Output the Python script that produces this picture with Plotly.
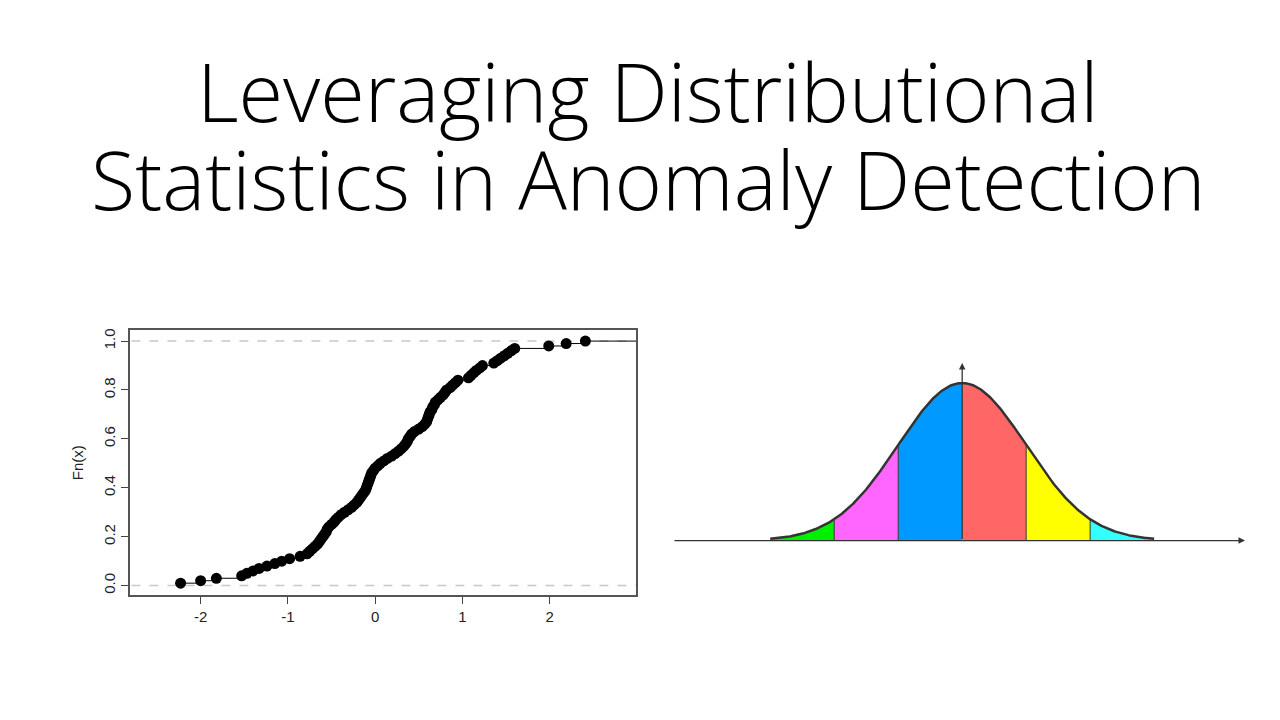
import numpy as np
import plotly.graph_objects as go

# sorted sample values (n = 100)
sample_x = [-2.23, -2.0, -1.82, -1.53, -1.47, -1.40, -1.33, -1.24, -1.15, -1.07,
            -0.98, -0.86, -0.78, -0.75, -0.72, -0.69, -0.66, -0.64, -0.62, -0.60,
            -0.58, -0.56, -0.55, -0.53, -0.50, -0.47, -0.45, -0.42, -0.39, -0.35,
            -0.31, -0.27, -0.24, -0.21, -0.19, -0.17, -0.15, -0.13, -0.11, -0.10,
            -0.09, -0.08, -0.07, -0.06, -0.05, -0.04, -0.02, 0.00, 0.03, 0.06,
            0.10, 0.14, 0.19, 0.23, 0.27, 0.30, 0.33, 0.35, 0.37, 0.38,
            0.40, 0.42, 0.45, 0.50, 0.54, 0.57, 0.59, 0.60, 0.61, 0.62,
            0.63, 0.65, 0.66, 0.68, 0.69, 0.72, 0.75, 0.78, 0.80, 0.82,
            0.86, 0.89, 0.92, 0.95, 1.07, 1.10, 1.13, 1.16, 1.20, 1.23,
            1.36, 1.40, 1.44, 1.48, 1.52, 1.56, 1.60, 1.99, 2.19, 2.41]
ecdf_y = [(i + 1) / len(sample_x) for i in range(len(sample_x))]

x_ticks = [-2, -1, 0, 1, 2]
x_labels = ["-2", "-1", "0", "1", "2"]
y_ticks = [0.0, 0.2, 0.4, 0.6, 0.8, 1.0]

title_lines = ["Leveraging Distributional", "Statistics in Anomaly Detection"]

# normal curve bands (in standard deviations)
band_edges = [-3, -2, -1, 0, 1, 2, 3]
band_colors = ["#00ee00", "#ff66ff", "#0099ff", "#ff6666", "#ffff00", "#33ffff"]

fig = go.Figure()

# --- left: empirical CDF ---
for yy in [0, 1]:
    fig.add_trace(go.Scatter(x=[-3, 3.2], y=[yy, yy], mode="lines",
                             line=dict(color="#c8c8c8", width=1.5, dash="dash"),
                             showlegend=False, xaxis="x", yaxis="y"))
fig.add_trace(go.Scatter(x=sample_x + [3.2], y=ecdf_y + [1],
                         mode="lines", line=dict(color="black", width=1, shape="hv"),
                         showlegend=False, xaxis="x", yaxis="y"))
fig.add_trace(go.Scatter(x=sample_x, y=ecdf_y, mode="markers",
                         marker=dict(color="black", size=11),
                         showlegend=False, xaxis="x", yaxis="y"))

# --- right: normal density split into bands ---
def pdf(z):
    return np.exp(-z ** 2 / 2) / np.sqrt(2 * np.pi)

for i, col in enumerate(band_colors):
    zs = np.linspace(band_edges[i], band_edges[i + 1], 60)
    fig.add_trace(go.Scatter(x=zs, y=pdf(zs), mode="lines", fill="tozeroy",
                             fillcolor=col, line=dict(width=0),
                             showlegend=False, xaxis="x2", yaxis="y2"))
for e in band_edges[1:-1]:
    if e == 0:
        continue
    fig.add_trace(go.Scatter(x=[e, e], y=[0, pdf(e)], mode="lines",
                             line=dict(color="#333333", width=1),
                             showlegend=False, xaxis="x2", yaxis="y2"))
zs = np.linspace(band_edges[0], band_edges[-1], 300)
fig.add_trace(go.Scatter(x=zs, y=pdf(zs), mode="lines",
                         line=dict(color="#333333", width=2.5),
                         showlegend=False, xaxis="x2", yaxis="y2"))

# axes arrows for the density
fig.add_annotation(x=4.42, y=0, ax=-4.52, ay=0, xref="x2", yref="y2",
                   axref="x2", ayref="y2", showarrow=True, arrowhead=2,
                   arrowsize=1, arrowwidth=1.3, arrowcolor="#333333", text="")
fig.add_annotation(x=0, y=0.4495, ax=0, ay=0, xref="x2", yref="y2",
                   axref="x2", ayref="y2", showarrow=True, arrowhead=2,
                   arrowsize=1, arrowwidth=1.3, arrowcolor="#333333", text="")

axfont = dict(family="Liberation Sans", size=15, color="#222")
fig.update_layout(
    width=1280, height=720, margin=dict(l=0, r=0, t=0, b=0),
    paper_bgcolor="white", plot_bgcolor="white",
    xaxis=dict(domain=[0.0953, 0.4906], range=[-2.81, 2.99], tickvals=x_ticks,
               ticktext=x_labels,
               ticks="outside", ticklen=7, showgrid=False, zeroline=False,
               showline=True, mirror=True, linecolor="#555", linewidth=1.5,
               tickfont=axfont),
    yaxis=dict(domain=[0.1847, 0.5542], range=[-0.04, 1.045], tickvals=y_ticks,
               tickformat=".1f", tickangle=-90, ticks="outside", ticklen=7,
               showgrid=False, zeroline=False, showline=True, mirror=True,
               linecolor="#555", linewidth=1.5, tickfont=axfont,
               title=dict(text="Fn(x)", font=axfont, standoff=14)),
    xaxis2=dict(domain=[0.5195, 0.9664], range=[-4.52, 4.42], visible=False),
    yaxis2=dict(domain=[0.2611, 0.5083], range=[0, 0.4495], visible=False),
)

for line, yy in zip(title_lines, [0.888, 0.765]):
    fig.add_annotation(text=line, xref="paper", yref="paper", x=0.5, y=yy,
                       yanchor="middle", showarrow=False,
                       font=dict(family="Open Sans", size=81, color="black", weight=300))

fig.write_html("out.html")
